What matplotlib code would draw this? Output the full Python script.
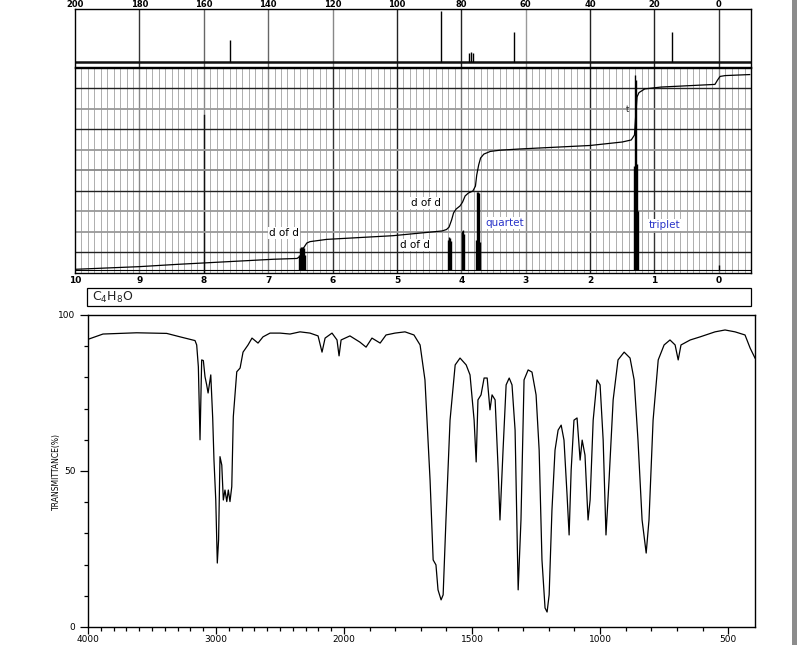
import numpy as np
import matplotlib
matplotlib.use("Agg")
import matplotlib.pyplot as plt
from matplotlib.patches import Rectangle

# ── 13C spectrum (ppm, relative height) ─────────────────────────────────────
C13_PPM    = [151.8, 86.4, 77.5, 77.0, 76.5, 63.5, 14.6]
C13_HEIGHT = [0.47, 0.97, 0.24, 0.26, 0.24, 0.60, 0.61]
C13_TICKS  = [200, 180, 160, 140, 120, 100, 80, 60, 40, 20, 0]

# ── 1H spectrum (ppm, height in chart-grid units 0..10) ─────────────────────
H1_PPM    = [6.52, 6.505, 6.49, 6.475, 6.46, 6.445, 6.43,
             4.205, 4.19, 4.175, 4.16,
             3.985, 3.97, 3.955,
             3.765, 3.75, 3.74, 3.73, 3.715,
             1.31, 1.295, 1.285, 1.27, 1.255,
             0.0]
H1_HEIGHT = [0.9, 1.2, 1.25, 1.28, 1.25, 1.2, 0.9,
             1.6, 1.75, 1.7, 1.55,
             2.05, 2.1, 1.9,
             1.6, 3.95, 3.97, 3.9, 1.5,
             5.2, 9.66, 9.4, 5.3, 3.0,
             0.39]
H1_BASE = 0.15

# integration trace (ppm, level)
INT_PPM   = [10.0, 9.0, 8.42, 6.92, 6.55, 6.50, 6.45, 6.40, 6.35, 6.09, 5.06,
             4.30, 4.23, 4.19, 4.15, 4.12, 4.08, 4.02, 3.98, 3.94, 3.89, 3.82,
             3.78, 3.76, 3.73, 3.70, 3.65, 3.55, 3.40, 3.09, 2.00, 1.50, 1.36,
             1.31, 1.29, 1.27, 1.24, 1.15, 0.90, 0.06, 0.02, -0.02, -0.10, -0.48]
INT_LEVEL = [0.18, 0.31, 0.42, 0.67, 0.71, 0.83, 1.22, 1.46, 1.53, 1.64, 1.82,
             2.05, 2.12, 2.24, 2.59, 2.93, 3.12, 3.27, 3.46, 3.76, 3.90, 4.00,
             4.24, 4.78, 5.27, 5.61, 5.80, 5.93, 5.99, 6.05, 6.22, 6.39, 6.49,
             6.73, 7.71, 8.59, 8.80, 8.98, 9.07, 9.20, 9.41, 9.59, 9.63, 9.68]
H1_TICKS = [10, 9, 8, 7, 6, 5, 4, 3, 2, 1, 0]

# ── IR spectrum (wavenumber cm-1, transmittance %) ──────────────────────────
IR_WN = [4000, 3883, 3620, 3385, 3281, 3164, 3151, 3138, 3125, 3112, 3099,
         3086, 3073, 3062, 3041, 3026, 3016, 3002, 2990, 2980, 2969, 2955,
         2943, 2930, 2916, 2904, 2891, 2877, 2865, 2838, 2812, 2789, 2750,
         2719, 2672, 2633, 2578, 2500, 2422, 2344, 2266, 2203, 2172, 2148,
         2094, 2055, 2039, 2023, 1977, 1938, 1914, 1891, 1859, 1836, 1801,
         1762, 1727, 1703, 1684, 1664, 1652, 1641, 1633, 1621, 1613, 1602,
         1586, 1566, 1547, 1523, 1508, 1492, 1484, 1477, 1465, 1453, 1441,
         1430, 1422, 1410, 1398, 1391, 1379, 1367, 1355, 1344, 1332, 1320,
         1309, 1297, 1281, 1266, 1250, 1238, 1227, 1215, 1207, 1199, 1188,
         1176, 1164, 1152, 1141, 1129, 1121, 1113, 1102, 1090, 1078, 1070,
         1059, 1047, 1039, 1027, 1012, 1000, 988, 977, 965, 949, 930, 906,
         883, 867, 852, 836, 820, 809, 793, 773, 750, 727, 707, 695, 684,
         648, 609, 551, 512, 473, 434, 414, 395]
IR_T = [92.2, 93.9, 94.3, 94.1, 93.0, 91.8, 90.4, 83.4, 60.0, 85.6, 85.4,
        80.2, 77.6, 75.0, 80.8, 67.0, 53.5, 40.7, 20.5, 27.9, 54.6, 51.9,
        40.7, 43.9, 40.2, 43.9, 40.2, 45.0, 67.4, 81.8, 83.0, 88.1, 90.4,
        92.6, 91.0, 93.0, 94.2, 94.2, 93.9, 94.6, 94.2, 93.3, 88.1, 92.6,
        94.2, 92.0, 86.9, 92.0, 93.3, 91.3, 89.7, 92.6, 91.0, 93.6, 94.2,
        94.6, 93.6, 90.4, 79.2, 47.0, 21.5, 19.9, 11.9, 8.7, 10.3, 34.3,
        66.3, 84.0, 86.2, 84.0, 80.8, 66.3, 52.9, 72.8, 74.4, 79.8, 79.8,
        69.6, 74.4, 72.8, 50.3, 34.3, 56.7, 77.6, 79.8, 77.6, 63.1, 11.9,
        34.3, 79.2, 82.4, 81.7, 74.4, 56.7, 21.5, 6.1, 4.8, 10.3, 37.5,
        56.7, 63.1, 64.7, 59.9, 42.3, 29.5, 50.3, 66.3, 67.0, 53.5, 59.9,
        55.1, 34.3, 40.7, 66.3, 79.2, 77.6, 59.9, 29.5, 47.1, 72.8, 85.6, 88.1,
        86.2, 79.2, 59.9, 34.3, 23.7, 34.3, 66.3, 85.6, 90.4, 92.0, 90.4, 85.6, 90.4,
        92.0, 93.0, 94.6, 95.2, 94.6, 93.6, 89.4, 86.2]
IR_LABELS = [4000, 3000, 2000, 1500, 1000, 500]

FORMULA = r"C$_4$H$_8$O"

W, H = 799, 645


def box(l, t, r, b):
    """pixel box -> figure fraction rect"""
    return [l / W, 1 - b / H, (r - l) / W, (b - t) / H]


# IR chart paper: 1000 cm-1 per unit above 2000, 500 cm-1 per unit below
def ir_pos(w):
    w = np.asarray(w, dtype=float)
    return np.where(w >= 2000, (4000 - w) / 1000, 2 + (2000 - w) / 500)


fig = plt.figure(figsize=(W / 100, H / 100), dpi=100)
fig.patch.set_facecolor("white")

# ── 13C strip ────────────────────────────────────────────────────────────────
ax_c = fig.add_axes(box(75, 9, 751, 67))
ax_c.set_xlim(200, -10)
ax_c.set_ylim(0, 1)
c13_grid = {180: "#333", 160: "#666", 140: "#666", 120: "#888", 100: "#222",
            80: "#222", 60: "#999", 40: "#222", 20: "#222", 0: "#333"}
for v, c in c13_grid.items():
    ax_c.axvline(v, color=c, lw=1.0, zorder=1)
ax_c.axhline(0.08, color="#111", lw=1.8, zorder=2)
ax_c.vlines(C13_PPM, 0.08, C13_HEIGHT, color="k", lw=1.0, zorder=3)
ax_c.xaxis.tick_top()
ax_c.set_xticks(C13_TICKS)
ax_c.set_xticklabels([str(t) for t in C13_TICKS], fontsize=6,
                     fontweight="bold")
ax_c.tick_params(axis="x", length=0, pad=0.3)
ax_c.set_yticks([])
for s in ax_c.spines.values():
    s.set_linewidth(1.0)

# ── 1H panel ─────────────────────────────────────────────────────────────────
ax_h = fig.add_axes(box(75, 68, 751, 273))
ax_h.set_xlim(10, -0.5)
ax_h.set_ylim(0, 10)

minor = np.round(np.arange(-0.5, 10.0, 0.1), 2)
minor = [m for m in minor if abs(m - round(m)) > 1e-6]
for m in minor:
    ax_h.axvline(m, color="#444", lw=0.6, ls=(0, (1.2, 1.2)), zorder=1)
h_vgrid = {9: "#888", 8: "#888", 7: "#888", 6: "#333", 5: "#222",
           4: "#777", 3: "#888", 2: "#222", 1: "#333", 0: "#888"}
for v, c in h_vgrid.items():
    ax_h.axvline(v, color=c, lw=1.0, zorder=1)
ax_h.plot([8, 8], [0, 7.7], color="#111", lw=1.0, zorder=1)
h_hgrid = {9: "#222", 8: "#999", 7: "#222", 6: "#999", 5: "#888",
           4: "#222", 3: "#999", 2: "#999", 1: "#222"}
for v, c in h_hgrid.items():
    ax_h.axhline(v, color=c, lw=1.0 if c == "#222" else 1.3, zorder=1)

ax_h.axhline(H1_BASE, color="k", lw=0.8, zorder=3)
ax_h.vlines(H1_PPM, H1_BASE, H1_HEIGHT, color="k", lw=1.0, zorder=3)
ax_h.plot(INT_PPM, INT_LEVEL, color="k", lw=0.9, zorder=3)

lbl = dict(fontsize=7.5, va="center", ha="center", zorder=5,
           bbox=dict(fc="white", ec="none", pad=0.6))
ax_h.text(6.75, (273 - 233) / 20.5, "d of d", color="k", **lbl)
ax_h.text(4.55, (273 - 203) / 20.5, "d of d", color="k", **lbl)
ax_h.text(4.72, (273 - 245) / 20.5, "d of d", color="k", **lbl)
ax_h.text(3.32, (273 - 223) / 20.5, "quartet", color="#2a34c8", **lbl)
ax_h.text(0.85, (273 - 225) / 20.5, "triplet", color="#2a34c8", **lbl)
ax_h.text(1.42, (273 - 110) / 20.5, "t", color="#222", fontsize=6,
          ha="center", va="center", zorder=5)

ax_h.set_xticks(H1_TICKS)
ax_h.set_xticklabels([str(t) for t in H1_TICKS], fontsize=6.5,
                     fontweight="bold")
ax_h.tick_params(axis="x", length=0, pad=2.5)
ax_h.set_yticks([])
for s in ax_h.spines.values():
    s.set_linewidth(1.0)

# ── formula box ─────────────────────────────────────────────────────────────
fig.add_artist(Rectangle((87 / W, 1 - 306 / H), (751 - 87) / W, 18 / H,
                         transform=fig.transFigure, fill=False,
                         ec="k", lw=0.9))
fig.text(92 / W, 1 - 297 / H, FORMULA, fontsize=9, va="center", ha="left",
         color="#222")

# ── IR spectrum ─────────────────────────────────────────────────────────────
ax_ir = fig.add_axes(box(88, 315, 755, 627))
ax_ir.set_xlim(0, float(ir_pos(395)))
ax_ir.set_ylim(0, 100)
ax_ir.plot(ir_pos(IR_WN), IR_T, color="k", lw=0.9)

ax_ir.set_xticks(ir_pos(IR_LABELS))
ax_ir.set_xticklabels([str(t) for t in IR_LABELS], fontsize=6.5)
ax_ir.set_xticks(ir_pos(list(range(3900, 400, -100))), minor=True)
ax_ir.set_yticks([0, 50, 100])
ax_ir.set_yticklabels(["0", "50", "100"], fontsize=6.5)
ax_ir.set_yticks(list(range(10, 100, 10)), minor=True)
ax_ir.tick_params(axis="y", which="major", length=6, width=0.9, pad=3)
ax_ir.tick_params(axis="x", which="major", length=5, width=0.9, pad=1)
ax_ir.tick_params(axis="both", which="minor", length=3, width=0.9)
ax_ir.set_ylabel("TRANSMITTANCE(%)", fontsize=5.5)
ax_ir.yaxis.set_label_coords(-27 / 667, 0.5)
for s in ax_ir.spines.values():
    s.set_linewidth(1.0)

# grey scan edge on the right
fig.add_artist(Rectangle((792 / W, 0), 5 / W, 1, transform=fig.transFigure,
                         fc="#8c8c8c", ec="none"))

fig.savefig("out.png", dpi=100, facecolor="white")
